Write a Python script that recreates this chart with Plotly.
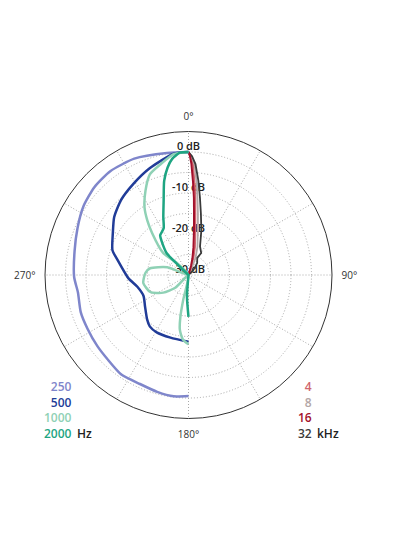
import plotly.graph_objects as go

# ---- data (angle in degrees clockwise from top, level in dB) ----
theta_250 = [360, 350, 335, 323, 313, 303, 293, 282, 269, 261, 251, 242, 232, 224, 214, 204, 195, 187, 180]
db_250 = [0, 0.2, 1.3, 1.7, 1.4, 0.6, -0.6, -1.6, -2.1, -2.7, -2.2, -2.1, -1.8, -1.5, -0.7, -0.9, -0.5, -0.2, -0.5]

theta_500 = [360, 353, 340, 329, 318, 308, 299, 288, 282, 267, 257, 245, 234, 223, 217, 209, 196, 180]
db_500 = [0, -0.2, -2.3, -4.0, -5.4, -7.0, -8.9, -10.5, -12.3, -15.3, -17.2, -17.9, -16.9, -15.2, -14.3, -14.0, -14.1, -13.7]

theta_1000 = [360, 353, 346, 339, 333, 327, 323, 319, 311, 316, 300, 290, 280, 273, 260, 246, 235, 226, 210, 192, 191, 189, 185, 180]
db_1000 = [0, -0.3, -2.1, -3.7, -6.9, -10.3, -13.3, -16.5, -21.8, -26.0, -30, -24.5, -20.5, -19.5, -18.8, -19.8, -22.5, -25.5, -30, -23.8, -19.6, -16.5, -14.2, -13.1]

theta_2000 = [360, 356, 352, 349, 345.5, 341.5, 336.5, 332, 324.5, 321.5, 315, 314, 300, 190, 184, 180]
db_2000 = [0, -0.1, -1.4, -3.3, -6.3, -10.9, -14.6, -17.1, -18.1, -19.5, -22.5, -27.1, -30, -30, -24.7, -19.8]

theta_4k = [0, 1.2, 2.3, 3.6, 5.1, 6.4, 8.8, 13.1, 16.4, 18.4, 28]
db_4k = [0, -1.0, -2.9, -7.0, -11.1, -14.9, -19.0, -23.0, -25.7, -27.7, -30]

theta_8k = [0, 1.4, 3.1, 4.8, 6.6, 8.7, 11.9, 17.8, 22.4, 24, 35]
db_8k = [0, -1.0, -2.9, -6.9, -11.0, -14.8, -18.9, -22.9, -25.5, -27.6, -30]

theta_16k = [0, 0.7, 1.5, 2.7, 4, 5.1, 7, 10.1, 13.2, 15.5, 25]
db_16k = [0, -1.0, -2.9, -7.0, -11.1, -14.9, -19.0, -23.1, -25.8, -27.7, -30]

theta_32k = [0, 1.7, 3.6, 6, 8.4, 11.4, 16.1, 22, 30, 27, 36, 45, 70]
db_32k = [0, -1.0, -2.9, -6.9, -10.9, -14.7, -18.7, -22.5, -23.8, -25.3, -26.4, -28.3, -30]

low_labels = ["250", "500", "1000", "2000"]
high_labels = ["4", "8", "16", "32"]
radial_ticks = [0, -10, -20, -30]
radial_ticktext = ["0 dB", "-10 dB", "-20 dB", "-30 dB"]
angle_ticks = [0, 30, 60, 90, 120, 150, 180, 210, 240, 270, 300, 330]
angle_ticktext = ["0°", "", "", "90°", "", "", "180°", "", "", "270°", "", ""]

# ---- styles ----
C_250, C_500, C_1000, C_2000 = "#7f86cb", "#213c98", "#8fd1b5", "#1ea582"
C_4k, C_8k, C_16k, C_32k = "#d0666e", "#b4a6a6", "#a3102b", "#3a3a3a"
FONT = "Open Sans"
OFF = 8  # page body margin in px


def px_x(x):
    return (x - OFF) / 400


def px_y(y):
    return 1 - (y - OFF) / 550


fig = go.Figure()

# radial labels as text through the polar scale
fig.add_trace(go.Scatterpolar(
    r=[v + 1.2 for v in radial_ticks], theta=[0] * len(radial_ticks),
    text=radial_ticktext, mode="text", textposition="middle center",
    textfont=dict(family=FONT, size=11, color="#222", weight=600),
    hoverinfo="skip", showlegend=False, cliponaxis=False))

series = [
    (theta_4k, db_4k, C_4k, 1.8, "linear"), (theta_8k, db_8k, C_8k, 1.8, "linear"),
    (theta_32k, db_32k, C_32k, 1.8, "linear"), (theta_16k, db_16k, C_16k, 2.0, "linear"),
    (theta_250, db_250, C_250, 2.5, "spline"), (theta_500, db_500, C_500, 2.5, "spline"),
    (theta_1000, db_1000, C_1000, 2.5, "spline"), (theta_2000, db_2000, C_2000, 2.5, "spline"),
]
for th, r, c, w, shape in series:
    fig.add_trace(go.Scatterpolar(r=r, theta=th, mode="lines",
                                  line=dict(color=c, width=w, shape=shape, smoothing=0.6),
                                  showlegend=False, hoverinfo="skip"))

fig.update_layout(
    width=400, height=550,
    margin=dict(l=0, r=0, t=0, b=0),
    paper_bgcolor="white", plot_bgcolor="white",
    showlegend=False,
    font=dict(family=FONT),
    polar=dict(
        domain=dict(x=[px_x(45), px_x(332)], y=[px_y(418.5), px_y(131.5)]),
        bgcolor="white",
        radialaxis=dict(range=[-30, 5], tickvals=[-30, -25, -20, -15, -10, -5, 0],
                        showticklabels=False, ticks="", showline=False,
                        gridcolor="#a8a8a8", griddash="1px,2px", gridwidth=1),
        angularaxis=dict(rotation=90, direction="clockwise",
                         tickvals=angle_ticks, ticktext=angle_ticktext,
                         ticks="outside", ticklen=7, tickcolor="rgba(0,0,0,0)",
                         tickfont=dict(family=FONT, size=10, color="#333"),
                         linecolor="#333", linewidth=1,
                         gridcolor="#a8a8a8", griddash="1px,2px", gridwidth=1),
    ),
)

# custom legend
low_colors = [C_250, C_500, C_1000, C_2000]
high_colors = [C_4k, C_8k, C_16k, C_32k]
low_text = "<br>".join(f"<span style='color:{c}'>{t}</span>" for t, c in zip(low_labels, low_colors))
high_text = "<br>".join(f"<span style='color:{c}'>{t}</span>" for t, c in zip(high_labels, high_colors))
block_mid = (387 + 433) / 2
for xr, txt in [(73, low_text), (313, high_text)]:
    fig.add_annotation(x=px_x(xr), y=px_y(block_mid), xref="paper", yref="paper",
                       xanchor="right", yanchor="middle", align="right", showarrow=False,
                       text=txt, borderpad=0,
                       font=dict(family=FONT, size=12, color="#222", weight=600))
for xl, unit in [(76, "Hz"), (316, "kHz")]:
    fig.add_annotation(x=px_x(xl), y=px_y(433), xref="paper", yref="paper",
                       xanchor="left", yanchor="middle", showarrow=False, text=unit, borderpad=0,
                       font=dict(family=FONT, size=12, color="#222", weight=600))

fig.write_html("out.html")
